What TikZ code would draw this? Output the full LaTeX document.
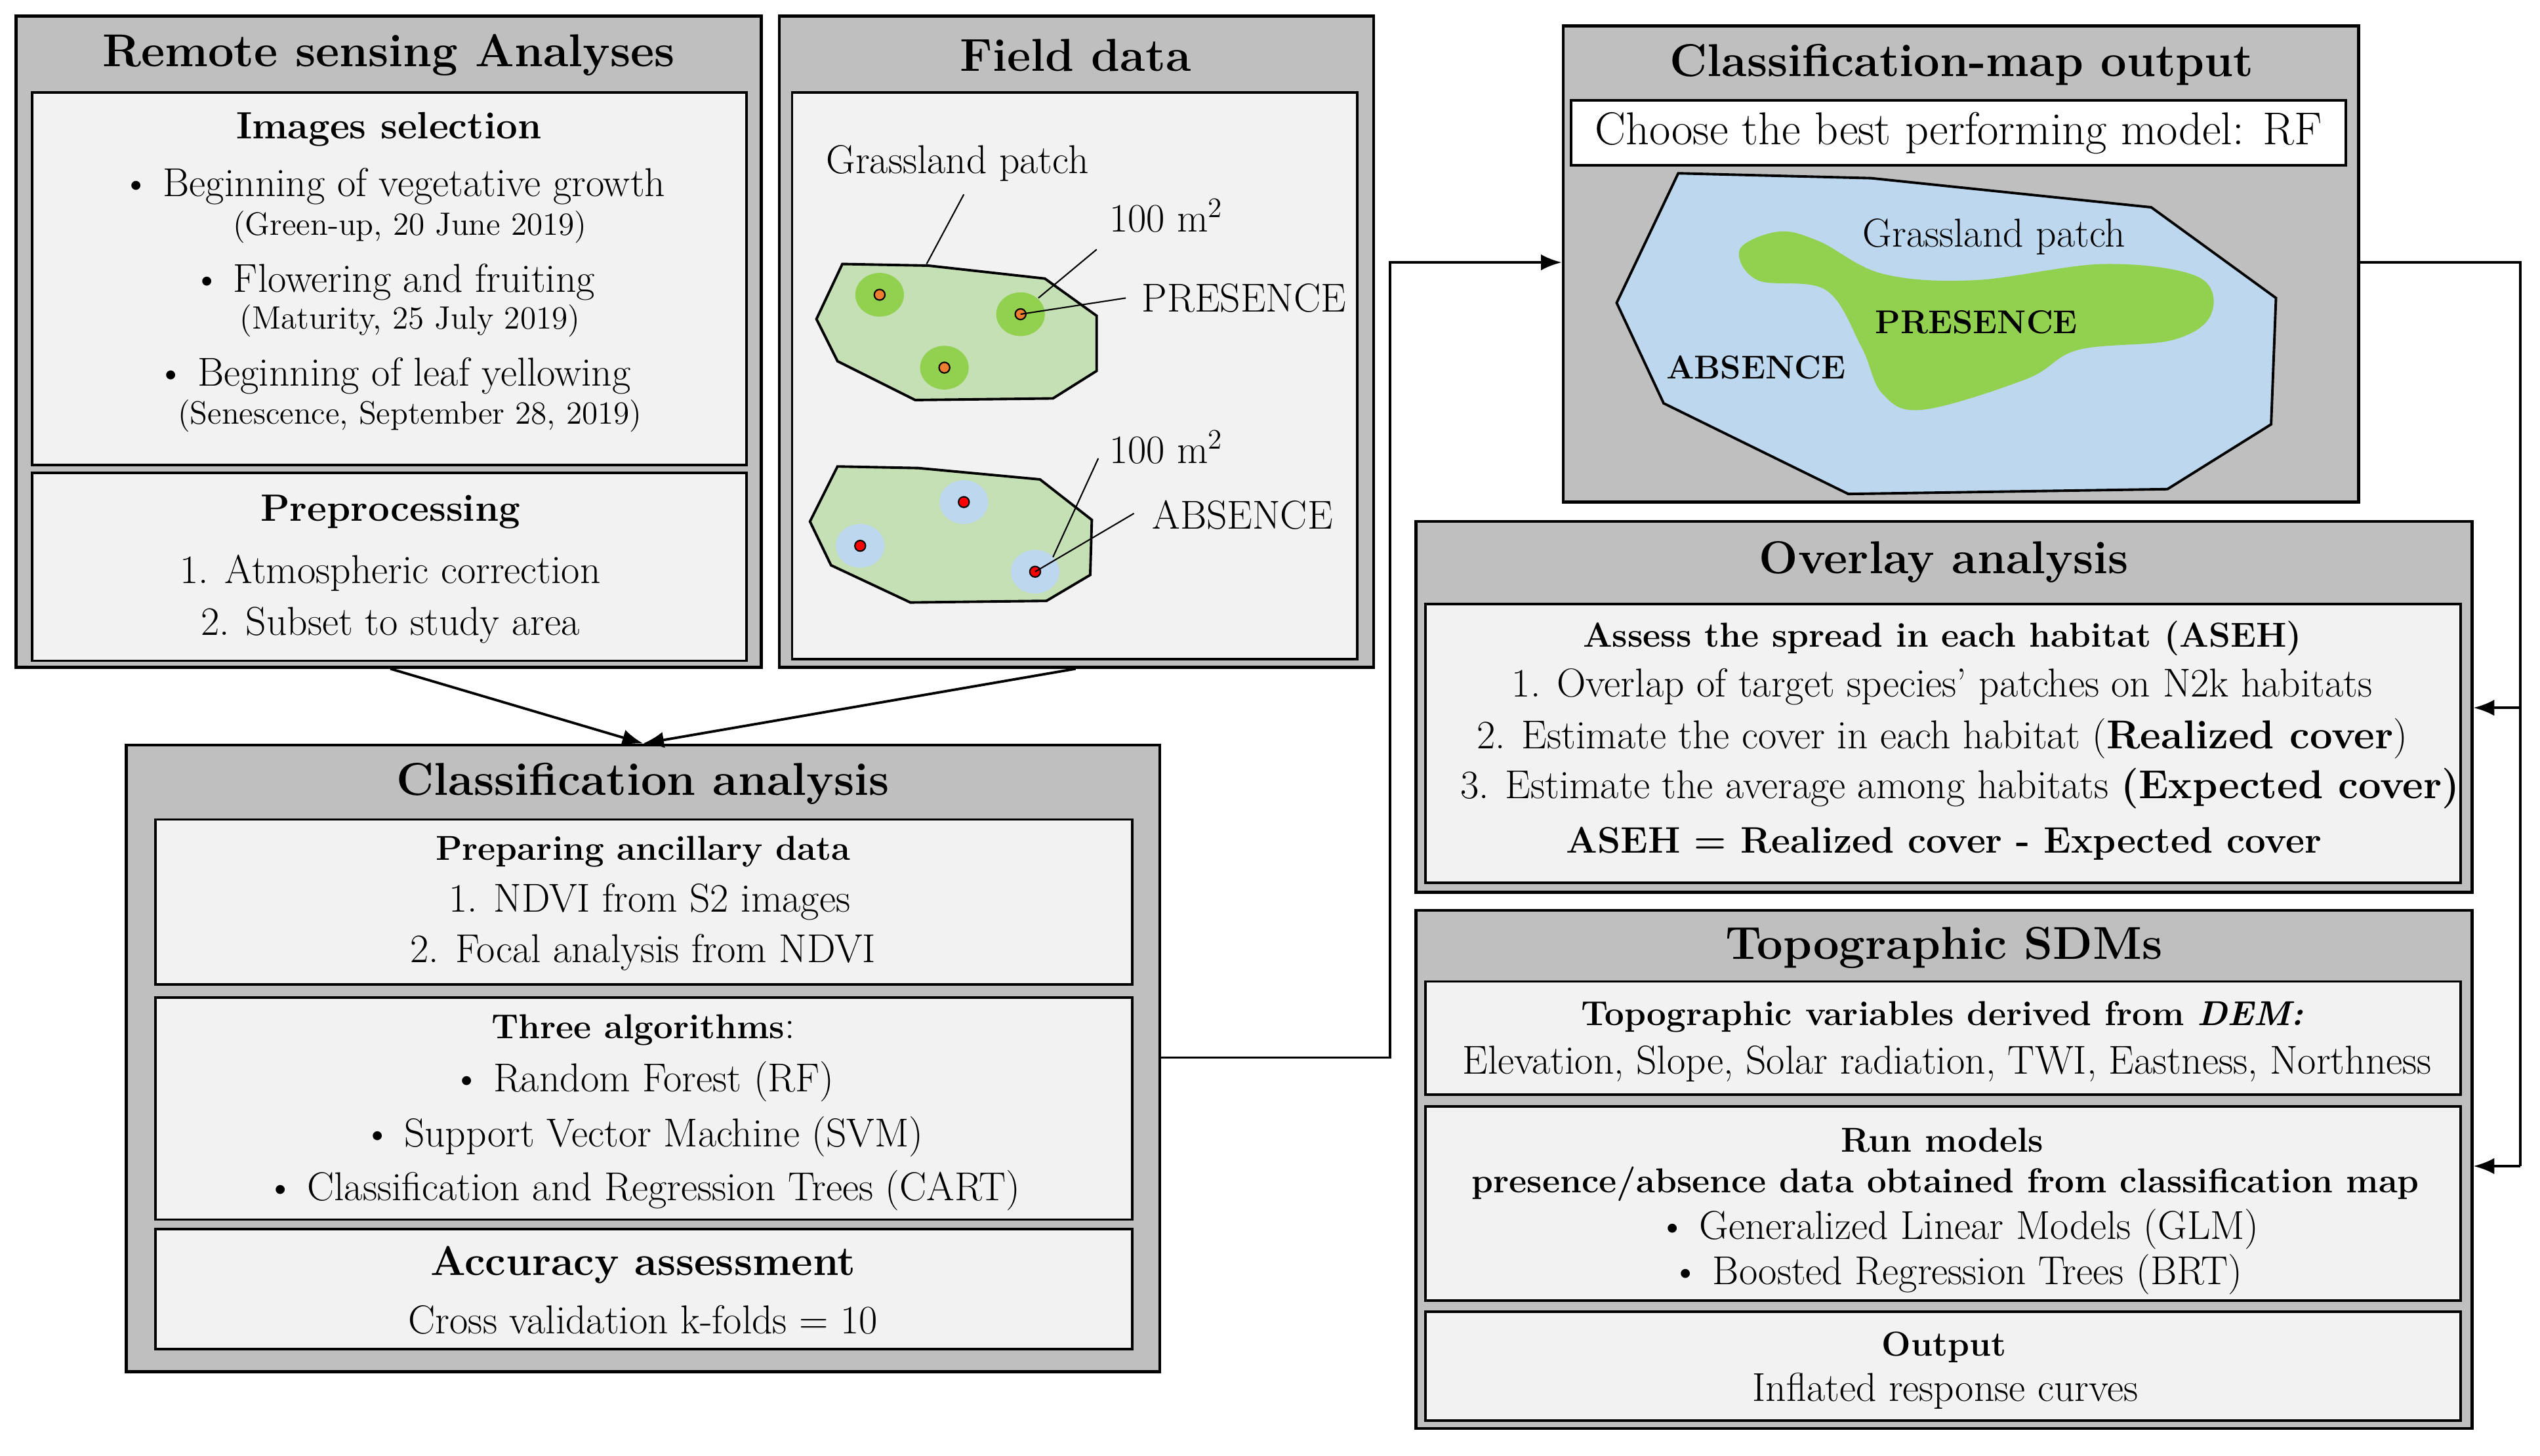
\documentclass[tikz,border=0pt]{standalone}
\usetikzlibrary{fit,arrows.meta}
\definecolor{outgray}{RGB}{191,191,191}
\definecolor{ingray}{RGB}{242,242,242}
\definecolor{lgreen}{RGB}{197,224,180}
\definecolor{dgreen}{RGB}{146,208,80}
\definecolor{pblue}{RGB}{189,215,238}
\definecolor{dorange}{RGB}{237,125,49}

\tikzset{
  outer/.style={draw,line width=1.3pt,fill=outgray,inner sep=0pt},
  inner/.style={draw,line width=1.1pt,fill=ingray,inner sep=0pt},
  ttl/.style={font=\fontsize{20}{24}\selectfont\bfseries},
  sub/.style={font=\fontsize{15}{18}\selectfont\bfseries},
  txt/.style={font=\fontsize{17.5}{20}\selectfont},
  sml/.style={font=\fontsize{14}{16}\selectfont},
  flow/.style={line width=1.1pt,-{Latex[length=9pt,width=7pt]}},
  lead/.style={line width=0.6pt},
}

\begin{document}
\begin{tikzpicture}[x=0.02469cm,y=-0.02469cm]
\useasboundingbox (0,0) rectangle (1568,899);

% boxes
\node[outer,fit={(10,10) (470,412)}] (rs) {};
\node[inner,fit={(20,57) (461,287)}] (img) {};
\node[inner,fit={(20,292) (461,408)}] (pre) {};
\node[outer,fit={(481,10) (848,412)}] (fd) {};
\node[inner,fit={(489,57) (838,407)}] (fdin) {};
\node[outer,fit={(965,16) (1456,310)}] (cm) {};
\node[inner,fit={(970,62) (1448,102)},fill=white] (best) {};
\node[outer,fit={(874,322) (1526,551)}] (ov) {};
\node[inner,fit={(880,373) (1519,545)}] (aseh) {};
\node[outer,fit={(874,562) (1526,882)}] (sdm) {};
\node[inner,fit={(880,606) (1519,676)}] (var) {};
\node[inner,fit={(880,683) (1519,803)}] (run) {};
\node[inner,fit={(880,810) (1519,877)}] (out) {};
\node[outer,fit={(78,460) (716,847)}] (ca) {};
\node[inner,fit={(96,506) (699,608)}] (anc) {};
\node[inner,fit={(96,616) (699,753)}] (alg) {};
\node[inner,fit={(96,759) (699,833)}] (acc) {};

% remote sensing
\node[ttl] (rsT) at (240,34) {Remote sensing Analyses};
\node[sub,font=\fontsize{16.5}{19}\selectfont\bfseries] (imgT) at (240,80) {Images selection};
\node[txt] (i1) at (243,115) {\textbullet\ Beginning of vegetative growth};
\node[sml] (i1s) at (253,140) {(Green-up, 20 June 2019)};
\node[txt] (i2) at (243,174) {\textbullet\ Flowering and fruiting};
\node[sml] (i2s) at (253,198) {(Maturity, 25 July 2019)};
\node[txt] (i3) at (243,232) {\textbullet\ Beginning of leaf yellowing};
\node[sml] (i3s) at (253,257) {(Senescence, September 28, 2019)};
\node[sub,font=\fontsize{16.5}{19}\selectfont\bfseries] (preT) at (241,316) {Preprocessing};
\node[txt] (p1) at (241,354) {1. Atmospheric correction};
\node[txt] (p2) at (241,386) {2. Subset to study area};

% field data
\node[ttl] (fdT) at (664,34) {Field data};
\draw[line width=1.1pt,fill=lgreen] (520,163) -- (573,164) -- (645,172) -- (677,195) -- (677,229) -- (650,246) -- (565,247) -- (517,223) -- (504,197) -- cycle;
\draw[line width=1.1pt,fill=lgreen] (517,288) -- (567,289) -- (642,296) -- (674,321) -- (673,355) -- (646,371) -- (562,372) -- (513,349) -- (500,322) -- cycle;
\foreach \px/\py in {543/182,630/194,583/227}{
  \fill[dgreen] (\px,\py) ellipse (15 and 13.5);
  \draw[fill=dorange,line width=0.6pt] (\px,\py) circle (3.3);
}
\foreach \px/\py in {595/310,531/337,639/353}{
  \fill[pblue] (\px,\py) ellipse (15 and 13.5);
  \draw[fill=red,line width=0.6pt] (\px,\py) circle (3.3);
}
\coordinate (pr) at (630,194);
\coordinate (ab) at (639,353);
\node[txt] (gpT) at (591,101) {Grassland patch};
\node[txt] (m1) at (720,133) {100 m\textsuperscript{2}};
\node[txt] (prT) at (768,184) {PRESENCE};
\node[txt] (m2) at (720,276) {100 m\textsuperscript{2}};
\node[txt] (abT) at (767,318) {ABSENCE};
\draw[lead] (595,120) -- (572,163);
\draw[lead] (677,154) -- (641,184);
\draw[lead] (695,184) -- (pr);
\draw[lead] (678,283) -- (650,344);
\draw[lead] (700,317) -- (ab);

% classification map
\node[ttl] (cmT) at (1211,40) {Classification-map output};
\node[txt,font=\fontsize{20}{24}\selectfont] (bestT) at (1209,82) {Choose the best performing model: RF};
\draw[line width=1.1pt,fill=pblue] (1036,107) -- (1155,110) -- (1328,128) -- (1405,184) -- (1402,262) -- (1338,302) -- (1141,305) -- (1027,249) -- (998,187) -- cycle;
\fill[dgreen] plot[smooth cycle,tension=0.6] coordinates {(1074,154) (1098,143) (1123,149) (1162,169) (1219,173) (1299,163) (1357,171) (1365,194) (1341,210) (1283,216) (1251,234) (1187,253) (1162,243) (1149,214) (1127,179) (1085,173)};
\node[txt] (gp2) at (1231,146) {Grassland patch};
\node[sub,font=\fontsize{14.3}{17}\selectfont\bfseries] (pr2) at (1220,199) {PRESENCE};
\node[sub,font=\fontsize{14.3}{17}\selectfont\bfseries] (ab2) at (1084,227) {ABSENCE};

% overlay
\node[ttl] (ovT) at (1200,347) {Overlay analysis};
\node[sub] (a0) at (1199,394) {Assess the spread in each habitat (ASEH)};
\node[txt] (a1) at (1199,424) {1. Overlap of target species' patches on N2k habitats};
\node[txt] (a2) at (1199,456) {2. Estimate the cover in each habitat (\textbf{Realized cover})};
\node[txt] (a3) at (1210,487) {3. Estimate the average among habitats \textbf{(Expected cover)}};
\node[sub,font=\fontsize{16}{19}\selectfont\bfseries] (a4) at (1200,521) {ASEH = Realized cover - Expected cover};

% topographic SDMs
\node[ttl] (sdmT) at (1200,585) {Topographic SDMs};
\node[sub] (v0) at (1199,628) {Topographic variables derived from \textit{DEM:}};
\node[txt] (v1) at (1202,657) {Elevation, Slope, Solar radiation, TWI, Eastness, Northness};
\node[sub] (r0) at (1199,704) {Run models};
\node[sub] (r1) at (1201,731) {presence/absence data obtained from classification map};
\node[txt] (r2) at (1209,759) {\textbullet\ Generalized Linear Models (GLM)};
\node[txt] (r3) at (1208,787) {\textbullet\ Boosted Regression Trees (BRT)};
\node[sub] (o0) at (1200,832) {Output};
\node[txt] (o1) at (1201,859) {Inflated response curves};

% classification analysis
\node[ttl] (caT) at (397,484) {Classification analysis};
\node[sub] (n0) at (397,526) {Preparing ancillary data};
\node[txt] (n1) at (401,557) {1. NDVI from S2 images};
\node[txt] (n2) at (397,588) {2. Focal analysis from NDVI};
\node[txt] (g0) at (397,636) {\textbf{\fontsize{15}{18}\selectfont Three algorithms}:};
\node[txt] (g1) at (397,668) {\textbullet\ Random Forest (RF)};
\node[txt] (g2) at (397,702) {\textbullet\ Support Vector Machine (SVM)};
\node[txt] (g3) at (397,735) {\textbullet\ Classification and Regression Trees (CART)};
\node[sub,font=\fontsize{18}{21}\selectfont\bfseries] (c0) at (397,781) {Accuracy assessment};
\node[txt] (c1) at (397,815) {Cross validation k-folds = 10};

% connectors
\draw[flow] (rs.south -| 241,0) -- (ca.north);
\draw[flow] (fd.south -| 664,0) -- (ca.north);
\draw[flow] (ca.east |- 0,653) -| (858,162) -- (cm.west |- 0,162);
\coordinate (rt) at (1556,162);
\draw[line width=1.1pt] (cm.east |- rt) -- (rt) -- (1556,720);
\draw[flow] (1556,437) -- (ov.east |- 0,437);
\draw[flow] (1556,720) -- (sdm.east |- 0,720);
\end{tikzpicture}
\end{document}
